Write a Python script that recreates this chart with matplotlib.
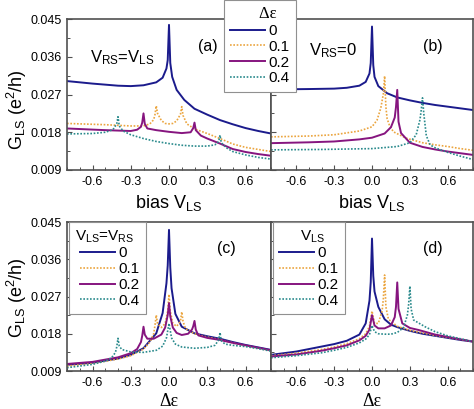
import matplotlib
matplotlib.use('Agg')
import matplotlib.pyplot as plt
from matplotlib.font_manager import FontProperties

plt.rcParams['font.family'] = ['Liberation Sans', 'DejaVu Sans']
plt.rcParams['mathtext.fontset'] = 'custom'
plt.rcParams['mathtext.rm'] = 'Liberation Sans'
plt.rcParams['mathtext.it'] = 'Liberation Sans'
plt.rcParams['mathtext.default'] = 'regular'

# ---------------- data ----------------
SERIES_LABELS = ['0', '0.1', '0.2', '0.4']
X_TICKS = [-0.6, -0.3, 0.0, 0.3, 0.6]
X_TICK_LABELS = ['-0.6', '-0.3', '0.0', '0.3', '0.6']
Y_TICKS = [0.009, 0.018, 0.027, 0.036, 0.045]
Y_TICK_LABELS = ['0.009', '0.018', '0.027', '0.036', '0.045']

# panel (a): V_RS = V_LS, G vs bias
A0_X = [-0.8, -0.6, -0.4, -0.3, -0.2, -0.1, -0.05, -0.02, -0.01, 0.0, 0.01, 0.025, 0.06, 0.12, 0.2, 0.3, 0.4, 0.5, 0.6, 0.7, 0.8]
A0_Y = [0.0302, 0.0296, 0.0291, 0.0290, 0.0292, 0.0299, 0.0310, 0.0332, 0.0352, 0.0436, 0.0345, 0.0312, 0.0281, 0.0257, 0.0236, 0.0222, 0.0209, 0.0199, 0.0190, 0.0183, 0.0177]
A1_X = [-0.8, -0.5, -0.3, -0.2, -0.15, -0.12, -0.11, -0.1, -0.09, -0.06, -0.03, 0.0, 0.03, 0.06, 0.09, 0.1, 0.11, 0.14, 0.2, 0.3, 0.4, 0.5, 0.6, 0.7, 0.8]
A1_Y = [0.0201, 0.0198, 0.0195, 0.0195, 0.0200, 0.0210, 0.0222, 0.0243, 0.0225, 0.0208, 0.0201, 0.0200, 0.0201, 0.0207, 0.0223, 0.0241, 0.0220, 0.0200, 0.0188, 0.0177, 0.0165, 0.0152, 0.0144, 0.0139, 0.0134]
A2_X = [-0.8, -0.5, -0.3, -0.25, -0.22, -0.21, -0.2, -0.19, -0.17, -0.1, 0.0, 0.1, 0.17, 0.19, 0.2, 0.21, 0.25, 0.3, 0.4, 0.5, 0.6, 0.7, 0.8]
A2_Y = [0.0189, 0.0185, 0.0183, 0.0186, 0.0193, 0.0203, 0.0225, 0.0200, 0.0189, 0.0185, 0.0181, 0.0178, 0.0180, 0.0190, 0.0203, 0.0185, 0.0172, 0.0165, 0.0153, 0.0140, 0.0133, 0.0128, 0.0124]
A3_X = [-0.8, -0.6, -0.5, -0.44, -0.41, -0.4, -0.39, -0.36, -0.3, -0.2, -0.1, 0.0, 0.1, 0.2, 0.3, 0.36, 0.39, 0.4, 0.41, 0.45, 0.5, 0.6, 0.7, 0.8]
A3_Y = [0.0176, 0.0177, 0.0180, 0.0186, 0.0200, 0.0217, 0.0195, 0.0183, 0.0174, 0.0165, 0.0158, 0.0153, 0.0149, 0.0147, 0.0147, 0.0150, 0.0158, 0.0173, 0.0155, 0.0143, 0.0134, 0.0126, 0.0120, 0.0116]

# panel (b): V_RS = 0, G vs bias
B0_X = [-0.8, -0.5, -0.3, -0.2, -0.1, -0.05, -0.02, -0.01, 0.0, 0.01, 0.02, 0.05, 0.12, 0.2, 0.3, 0.4, 0.5, 0.6, 0.7, 0.8]
B0_Y = [0.0282, 0.0283, 0.0284, 0.0286, 0.0291, 0.0300, 0.0320, 0.0345, 0.0432, 0.0340, 0.0312, 0.0290, 0.0273, 0.0263, 0.0256, 0.0250, 0.0245, 0.0241, 0.0237, 0.0233]
B1_X = [-0.8, -0.5, -0.3, -0.1, 0.0, 0.04, 0.07, 0.09, 0.1, 0.11, 0.12, 0.14, 0.17, 0.27, 0.4, 0.5, 0.6, 0.7, 0.8]
B1_Y = [0.0169, 0.0171, 0.0174, 0.0183, 0.0193, 0.0209, 0.0238, 0.0272, 0.0314, 0.0240, 0.0212, 0.0195, 0.0181, 0.0166, 0.0155, 0.0150, 0.0146, 0.0141, 0.0137]
B2_X = [-0.8, -0.5, -0.3, -0.1, 0.0, 0.1, 0.15, 0.18, 0.19, 0.2, 0.21, 0.23, 0.3, 0.4, 0.5, 0.6, 0.7, 0.8]
B2_Y = [0.0154, 0.0156, 0.0158, 0.0163, 0.0167, 0.0177, 0.0192, 0.0215, 0.0240, 0.0281, 0.0205, 0.0178, 0.0155, 0.0145, 0.0139, 0.0134, 0.0130, 0.0126]
B3_X = [-0.8, -0.4, 0.0, 0.2, 0.3, 0.35, 0.38, 0.39, 0.4, 0.41, 0.43, 0.46, 0.5, 0.6, 0.7, 0.8]
B3_Y = [0.0138, 0.0139, 0.0141, 0.0146, 0.0155, 0.0174, 0.0210, 0.0233, 0.0262, 0.0225, 0.0172, 0.0150, 0.0143, 0.0132, 0.0123, 0.0115]

# panel (c): V_LS = V_RS, G vs delta-epsilon
C0_X = [-0.8, -0.6, -0.4, -0.3, -0.2, -0.1, -0.05, -0.02, -0.01, 0.0, 0.01, 0.02, 0.05, 0.1, 0.2, 0.3, 0.4, 0.5, 0.6, 0.7, 0.8]
C0_Y = [0.0105, 0.0110, 0.0120, 0.0129, 0.0145, 0.0181, 0.0230, 0.0302, 0.0345, 0.0431, 0.0340, 0.0290, 0.0228, 0.0197, 0.0181, 0.0174, 0.0168, 0.0160, 0.0153, 0.0147, 0.0141]
C1_X = [-0.8, -0.6, -0.4, -0.3, -0.2, -0.15, -0.12, -0.11, -0.1, -0.09, -0.06, -0.03, -0.01, 0.0, 0.01, 0.03, 0.06, 0.09, 0.1, 0.11, 0.13, 0.2, 0.3, 0.4, 0.5, 0.6, 0.7, 0.8]
C1_Y = [0.0102, 0.0108, 0.0119, 0.0127, 0.0143, 0.0160, 0.0180, 0.0200, 0.0225, 0.0205, 0.0195, 0.0205, 0.0235, 0.0275, 0.0235, 0.0205, 0.0198, 0.0210, 0.0233, 0.0210, 0.0192, 0.0180, 0.0172, 0.0166, 0.0158, 0.0151, 0.0145, 0.0139]
C2_X = [-0.8, -0.6, -0.4, -0.3, -0.25, -0.22, -0.21, -0.2, -0.19, -0.17, -0.12, -0.06, -0.03, -0.01, 0.0, 0.01, 0.03, 0.06, 0.1, 0.15, 0.18, 0.19, 0.2, 0.21, 0.23, 0.3, 0.4, 0.5, 0.6, 0.7, 0.8]
C2_Y = [0.0107, 0.0112, 0.0123, 0.0133, 0.0143, 0.0160, 0.0175, 0.0197, 0.0178, 0.0168, 0.0168, 0.0178, 0.0195, 0.0225, 0.0254, 0.0222, 0.0195, 0.0182, 0.0177, 0.0180, 0.0190, 0.0198, 0.0211, 0.0190, 0.0176, 0.0170, 0.0165, 0.0158, 0.0152, 0.0146, 0.0140]
C3_X = [-0.8, -0.6, -0.5, -0.45, -0.42, -0.41, -0.4, -0.39, -0.37, -0.3, -0.2, -0.1, -0.05, -0.02, 0.0, 0.02, 0.05, 0.1, 0.2, 0.3, 0.36, 0.39, 0.4, 0.41, 0.44, 0.5, 0.6, 0.7, 0.8]
C3_Y = [0.0098, 0.0106, 0.0114, 0.0122, 0.0135, 0.0148, 0.0169, 0.0150, 0.0142, 0.0136, 0.0135, 0.0140, 0.0150, 0.0170, 0.0205, 0.0170, 0.0155, 0.0148, 0.0145, 0.0147, 0.0152, 0.0165, 0.0183, 0.0163, 0.0155, 0.0152, 0.0149, 0.0144, 0.0138]

# panel (d): G vs delta-epsilon for several V_LS
D0_X = [-0.8, -0.6, -0.4, -0.3, -0.2, -0.1, -0.05, -0.02, -0.01, 0.0, 0.01, 0.02, 0.05, 0.1, 0.15, 0.2, 0.3, 0.4, 0.5, 0.6, 0.7, 0.8]
D0_Y = [0.0129, 0.0137, 0.0149, 0.0155, 0.0163, 0.0178, 0.0205, 0.0260, 0.0305, 0.0410, 0.0320, 0.0282, 0.0245, 0.0215, 0.0202, 0.0196, 0.0187, 0.0180, 0.0175, 0.0170, 0.0165, 0.0161]
D1_X = [-0.8, -0.6, -0.4, -0.3, -0.2, -0.1, -0.05, -0.02, 0.0, 0.02, 0.05, 0.08, 0.09, 0.1, 0.11, 0.13, 0.2, 0.3, 0.5, 0.8]
D1_Y = [0.0127, 0.0133, 0.0142, 0.0148, 0.0156, 0.0168, 0.0180, 0.0198, 0.0235, 0.0205, 0.0205, 0.0235, 0.0265, 0.0322, 0.0245, 0.0215, 0.0198, 0.0188, 0.0176, 0.0161]
D2_X = [-0.8, -0.6, -0.4, -0.3, -0.2, -0.1, -0.05, -0.02, 0.0, 0.02, 0.05, 0.1, 0.15, 0.18, 0.19, 0.2, 0.21, 0.24, 0.3, 0.37, 0.5, 0.8]
D2_Y = [0.0125, 0.0130, 0.0139, 0.0145, 0.0152, 0.0164, 0.0175, 0.0190, 0.0225, 0.0200, 0.0193, 0.0193, 0.0200, 0.0220, 0.0245, 0.0304, 0.0240, 0.0205, 0.0194, 0.0189, 0.0178, 0.0161]
D3_X = [-0.8, -0.6, -0.4, -0.3, -0.2, -0.1, -0.05, -0.02, 0.0, 0.02, 0.05, 0.1, 0.15, 0.2, 0.25, 0.28, 0.29, 0.3, 0.31, 0.33, 0.42, 0.5, 0.6, 0.8]
D3_Y = [0.0122, 0.0127, 0.0134, 0.0140, 0.0147, 0.0158, 0.0167, 0.0178, 0.0200, 0.0185, 0.0180, 0.0179, 0.0179, 0.0183, 0.0195, 0.0225, 0.0250, 0.0295, 0.0240, 0.0213, 0.0197, 0.0185, 0.0175, 0.0161]

# ---------------- style ----------------
COLORS = ['#1b1b8c', '#eba53f', '#86157f', '#2a8a8c']
STYLES = ['-', (0, (1, 1)), '-', (0, (1, 1))]
WIDTHS = [1.4, 1.2, 1.4, 1.2]
SPINE = '#505050'

W, H = 474, 409
fig = plt.figure(figsize=(W / 100, H / 100), dpi=100)

def px_axes(l, t, r, b):
    return fig.add_axes([l / W, 1 - b / H, (r - l) / W, (b - t) / H])

axa = px_axes(67, 19, 271, 170)
axb = px_axes(271, 19, 473, 170)
axc = px_axes(67, 222, 271, 371)
axd = px_axes(271, 222, 473, 371)

panels = [
    (axa, [(A0_X, A0_Y), (A1_X, A1_Y), (A2_X, A2_Y), (A3_X, A3_Y)]),
    (axb, [(B0_X, B0_Y), (B1_X, B1_Y), (B2_X, B2_Y), (B3_X, B3_Y)]),
    (axc, [(C0_X, C0_Y), (C1_X, C1_Y), (C2_X, C2_Y), (C3_X, C3_Y)]),
    (axd, [(D0_X, D0_Y), (D1_X, D1_Y), (D2_X, D2_Y), (D3_X, D3_Y)]),
]

handles = {}
for ax, curves in panels:
    hs = []
    for i, (xs, ys) in enumerate(curves):
        h, = ax.plot(xs, ys, color=COLORS[i], linestyle=STYLES[i], lw=WIDTHS[i],
                     label=SERIES_LABELS[i])
        hs.append(h)
    handles[ax] = hs
    ax.set_xlim(-0.8, 0.8)
    ax.set_ylim(0.009, 0.045)
    ax.set_xticks(X_TICKS)
    ax.set_xticks([i / 10 for i in range(-8, 9)], minor=True)
    ax.set_yticks(Y_TICKS)
    ax.set_yticks([0.009 + 0.0045 * k for k in range(9)], minor=True)
    ax.set_xticklabels(X_TICK_LABELS, fontsize=9)
    ax.tick_params(which='both', direction='in', color=SPINE, top=False, right=False)
    ax.tick_params(which='major', length=3.5, width=0.8, pad=4)
    ax.tick_params(which='minor', length=2, width=0.7)
    for s in ax.spines.values():
        s.set_color(SPINE)
        s.set_linewidth(1.2)

for ax in (axa, axc):
    ax.set_yticklabels(Y_TICK_LABELS, fontsize=9)
    ax.set_ylabel('G$_{LS}$ (e$^2$/h)', fontsize=13)
axa.yaxis.set_label_coords(-0.188, 0.40)
axc.yaxis.set_label_coords(-0.188, 0.49)
for ax in (axb, axd):
    ax.set_yticklabels([])

for ax in (axa, axb):
    ax.set_xlabel('bias V$_{LS}$', fontsize=13, labelpad=4)
for ax in (axc, axd):
    ax.set_xlabel('Δε', fontsize=13, family='Liberation Serif', labelpad=3)

# panel annotations
axa.text(0.27, 0.715, 'V$_{RS}$=V$_{LS}$', transform=axa.transAxes, fontsize=12, ha='center')
axb.text(0.307, 0.76, 'V$_{RS}$=0', transform=axb.transAxes, fontsize=12, ha='center')
axa.text(0.64, 0.79, '(a)', transform=axa.transAxes, fontsize=11.5)
axb.text(0.75, 0.79, '(b)', transform=axb.transAxes, fontsize=11.5)
axc.text(0.735, 0.79, '(c)', transform=axc.transAxes, fontsize=11.5)
axd.text(0.75, 0.79, '(d)', transform=axd.transAxes, fontsize=11.5)

leg_kw = dict(frameon=True, fancybox=False, framealpha=1, edgecolor='#909090',
              fontsize=11, handlelength=2.3, handletextpad=0.2, labelspacing=0.12,
              borderpad=0.4, borderaxespad=0, alignment='right')

lg = fig.legend(handles[axa], SERIES_LABELS, loc='upper left',
                bbox_to_anchor=(224 / W, 1.0), title='Δε   ',
                title_fontproperties=FontProperties(family='Liberation Serif', size=12),
                **leg_kw)
lg.get_frame().set_linewidth(0.8)

lc = axc.legend(handles[axc], SERIES_LABELS, loc='upper left',
                bbox_to_anchor=(0.01, 1.0), title='V$_{LS}$=V$_{RS}$  ',
                title_fontproperties=FontProperties(size=11), **leg_kw)
lc.get_frame().set_linewidth(0.8)
ld = axd.legend(handles[axd], SERIES_LABELS, loc='upper left',
                bbox_to_anchor=(0.01, 1.0), title='V$_{LS}$    ',
                title_fontproperties=FontProperties(size=11), **leg_kw)
ld.get_frame().set_linewidth(0.8)

fig.savefig('out.png', dpi=100)
